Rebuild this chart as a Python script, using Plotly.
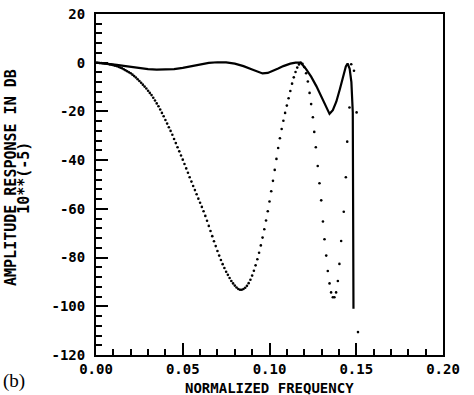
import plotly.graph_objects as go

# ---- data ----
solid_freq = [0.000, 0.004, 0.008, 0.012, 0.016, 0.020, 0.025, 0.030, 0.035, 0.040,
              0.045, 0.050, 0.055, 0.060, 0.065, 0.070, 0.075, 0.080, 0.085, 0.090,
              0.093, 0.096, 0.099, 0.102, 0.105, 0.108, 0.112, 0.115, 0.118, 0.121,
              0.124, 0.127, 0.130, 0.1325, 0.1346, 0.1365, 0.1385, 0.1405, 0.1425,
              0.1440, 0.1450, 0.1462, 0.1472, 0.1480, 0.1484]
solid_db = [0.0, -0.2, -0.5, -0.9, -1.3, -1.7, -2.2, -2.6, -2.8, -2.8,
            -2.6, -2.1, -1.4, -0.7, -0.1, 0.2, 0.1, -0.4, -1.4, -2.8,
            -3.7, -4.4, -4.2, -3.4, -2.4, -1.4, -0.4, 0.0, 0.0, -2.5,
            -5.7, -9.6, -14.0, -18.0, -21.0, -19.5, -16.0, -11.0, -5.5,
            -1.5, -0.3, -2.5, -8.0, -20.4, -101.0]

dotted_freq = [0.000, 0.001, 0.002, 0.003, 0.004, 0.005, 0.006, 0.007, 0.008, 0.009,
               0.010, 0.011, 0.012, 0.013, 0.014, 0.015, 0.016, 0.017, 0.018, 0.019,
               0.020, 0.021, 0.022, 0.023, 0.024, 0.025, 0.026, 0.027, 0.028, 0.029,
               0.030, 0.031, 0.032, 0.033, 0.034, 0.035, 0.036, 0.037, 0.038, 0.039,
               0.040, 0.041, 0.042, 0.043, 0.044, 0.045, 0.046, 0.047, 0.048, 0.049,
               0.050, 0.051, 0.052, 0.053, 0.054, 0.055, 0.056, 0.057, 0.058, 0.059,
               0.060, 0.061, 0.062, 0.063, 0.064, 0.065, 0.066, 0.067, 0.068, 0.069,
               0.070, 0.071, 0.072, 0.073, 0.074, 0.075, 0.076, 0.077, 0.078, 0.079,
               0.080, 0.081, 0.082, 0.083, 0.084, 0.085, 0.086, 0.087, 0.088, 0.089,
               0.090, 0.091, 0.092, 0.093, 0.094, 0.095, 0.096, 0.097, 0.098, 0.099,
               0.100, 0.101, 0.102, 0.103, 0.104, 0.105, 0.106, 0.107, 0.108, 0.109,
               0.110, 0.111, 0.112, 0.113, 0.114, 0.115, 0.116, 0.117, 0.118, 0.119,
               0.120, 0.1211, 0.1221, 0.1231, 0.1240, 0.1250, 0.1258, 0.1267, 0.1278,
               0.1288, 0.1298, 0.1308, 0.1317, 0.1327, 0.1336, 0.1346, 0.1355, 0.1365,
               0.1374, 0.1384, 0.1394, 0.1403, 0.1413, 0.1428, 0.1440, 0.1448, 0.1461,
               0.1471, 0.1487, 0.1502, 0.1510]
dotted_db = [0.0, 0.0, -0.1, -0.1, -0.2, -0.3, -0.4, -0.5, -0.7, -0.8,
             -1.0, -1.2, -1.4, -1.7, -2.0, -2.3, -2.7, -3.1, -3.5, -3.9,
             -4.3, -4.9, -5.5, -6.1, -6.8, -7.5, -8.2, -9.0, -9.8, -10.6,
             -11.5, -12.4, -13.3, -14.4, -15.5, -16.7, -17.9, -19.2, -20.6, -22.0,
             -23.5, -25.0, -26.5, -28.0, -29.6, -31.3, -33.0, -34.7, -36.4, -38.1,
             -39.8, -41.6, -43.4, -45.2, -47.0, -48.8, -50.6, -52.3, -54.0, -55.8,
             -57.5, -59.2, -61.0, -62.9, -64.9, -67.0, -69.1, -71.2, -73.3, -75.3,
             -77.3, -79.2, -81.0, -82.7, -84.3, -85.8, -87.1, -88.4, -89.6, -90.6,
             -91.5, -92.3, -92.9, -93.2, -93.2, -92.9, -92.4, -91.6, -90.5, -89.1,
             -87.4, -85.4, -83.2, -80.7, -78.0, -75.0, -71.8, -68.4, -64.8, -61.0,
             -57.0, -52.8, -48.5, -44.0, -39.5, -35.0, -31.0, -27.2, -23.8, -20.6,
             -17.6, -14.6, -11.6, -8.6, -6.0, -3.8, -2.0, -0.7, 0.0, -0.4,
             -1.8, -4.3, -7.7, -12.4, -17.0, -22.4, -28.4, -34.7, -42.4,
             -49.5, -56.5, -65.2, -72.5, -79.2, -85.5, -90.6, -94.3, -96.3,
             -96.3, -94.3, -89.6, -82.6, -73.2, -61.2, -47.0, -32.4, -18.4,
             -0.6, -3.3, -20.4, -110.6]

x_tickvals = [0.00, 0.05, 0.10, 0.15, 0.20]
x_ticktext = ["0.00", "0.05", "0.10", "0.15", "0.20"]
y_tickvals = [20, 0, -20, -40, -60, -80, -100, -120]
y_ticktext = ["20", "0", "-20", "-40", "-60", "-80", "-100", "-120"]

x_title = "NORMALIZED FREQUENCY"
y_title_1 = "AMPLITUDE RESPONSE IN DB"
y_title_2 = "10**(-5)"
panel_label = "(b)"

TICK_FONT = dict(family="DejaVu Sans Mono", size=14, color="black", weight="bold")
TITLE_FONT = dict(family="DejaVu Sans Mono", size=14, color="black", weight="bold")
YTITLE_FONT = dict(family="DejaVu Sans Mono", size=15, color="black", weight="bold")

fig = go.Figure()
fig.add_trace(go.Scatter(
    x=dotted_freq, y=dotted_db, mode="markers",
    marker=dict(color="black", size=2.6, line=dict(width=0)),
    hoverinfo="skip", showlegend=False))
fig.add_trace(go.Scatter(
    x=solid_freq, y=solid_db, mode="lines",
    line=dict(color="black", width=2.2, shape="linear"),
    hoverinfo="skip", showlegend=False))

axis_common = dict(
    showline=True, linecolor="black", linewidth=2, mirror=True,
    showgrid=False, zeroline=False,
    ticks="inside", tickcolor="black", tickwidth=1.5, ticklen=12,
    tickfont=TICK_FONT, tickmode="array", ticklabeloverflow="allow",
)

fig.update_xaxes(
    **axis_common, range=[0, 0.2], tickvals=x_tickvals, ticktext=x_ticktext,
    ticklabelstandoff=0,
    minor=dict(tickmode="linear", tick0=0, dtick=0.01, ticks="inside",
               ticklen=6, tickwidth=1.5, tickcolor="black", showgrid=False),
)
fig.update_yaxes(
    **axis_common, range=[-120, 20], tickvals=y_tickvals, ticktext=y_ticktext,
    ticklabelstandoff=6,
    minor=dict(tickmode="linear", tick0=0, dtick=4, ticks="inside",
               ticklen=6, tickwidth=1.5, tickcolor="black", showgrid=False),
)

fig.update_layout(
    width=474, height=395,
    margin=dict(l=96, r=31, t=6, b=40),
    paper_bgcolor="white", plot_bgcolor="white",
    showlegend=False,
    annotations=[
        dict(text=x_title, xref="paper", yref="paper", x=0.5, y=-0.097,
             xanchor="center", yanchor="middle", showarrow=False, font=TITLE_FONT),
        dict(text=y_title_1, xref="paper", yref="paper", x=-0.247, y=0.52,
             xanchor="center", yanchor="middle", textangle=-90, showarrow=False,
             font=YTITLE_FONT),
        dict(text=y_title_2, xref="paper", yref="paper", x=-0.207, y=0.52,
             xanchor="center", yanchor="middle", textangle=-90, showarrow=False,
             font=YTITLE_FONT),
        dict(text=panel_label, xref="paper", yref="paper", x=-0.275, y=-0.075,
             xanchor="left", yanchor="middle", showarrow=False,
             font=dict(family="Liberation Serif", size=19, color="black")),
    ],
)

fig.write_html(
    "out.html",
    config={"displayModeBar": False},
    post_script="document.body.style.margin='0px';document.body.style.overflow='hidden';",
)
